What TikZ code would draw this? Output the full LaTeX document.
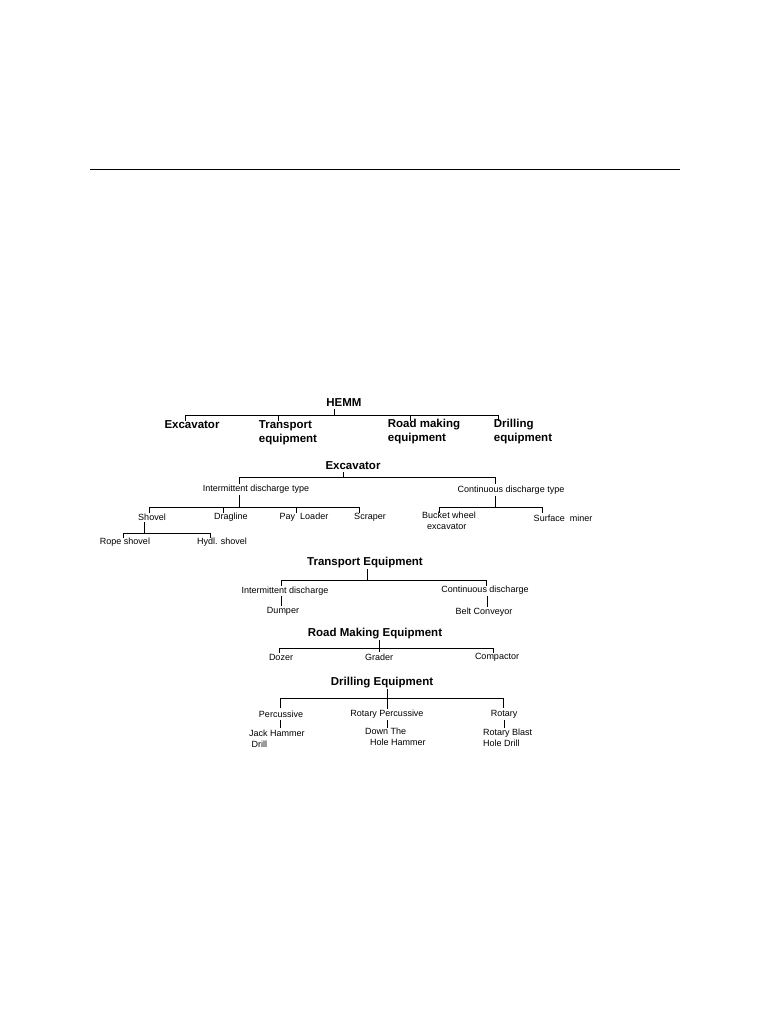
\documentclass[tikz,border=0pt]{standalone}
\usepackage{fontspec}
\setmainfont{Liberation Sans}
\begin{document}
\begin{tikzpicture}[x=1pt,y=-1pt,
  ttl/.style={font=\fontsize{11.5}{13}\selectfont\bfseries,inner sep=0pt},
  big/.style={font=\fontsize{11.5}{14}\selectfont\bfseries,inner sep=0pt,align=left},
  lbl/.style={font=\fontsize{9}{11}\selectfont,inner sep=0pt,align=left},
  ln/.style={line width=0.8pt}]
\useasboundingbox (0,0) rectangle (768,1024);
\draw[line width=1pt] (90,170) -- (680,170);
% HEMM
\node[ttl] (hemm) at (344,403) {HEMM};
\node[big] (ex) at (192,425) {Excavator};
\node[big,anchor=north] (tr) at (288,420) {Transport\\equipment};
\node[big,anchor=north] (rm) at (424,419) {Road making\\equipment};
\node[big,anchor=north] (dr) at (523,419) {Drilling\\equipment};
\draw[ln] (334,409) -- (334,415) (185,421) -- (185,415) -- (498,415) -- (498,421)
  (278,415) -- (278,421) (410,415) -- (410,421);
% Excavator
\node[ttl] (exc) at (353,466) {Excavator};
\node[lbl] (int) at (256,489) {Intermittent discharge type};
\node[lbl] (con) at (511,490) {Continuous discharge type};
\draw[ln] (343,472) -- (343,477) (239,484) -- (239,477) -- (495,477) -- (495,484);
\draw[ln] (239,495) -- (239,507) (495,496) -- (495,507);
\node[lbl] (sh) at (152,517) {Shovel};
\node[lbl] (dg) at (231,517) {Dragline};
\node[lbl] (pl) at (304,517) {Pay\ \ Loader};
\node[lbl] (sc) at (370,517) {Scraper};
\draw[ln] (149,513) -- (149,507) -- (359,507) -- (359,513) (223,507) -- (223,513) (296,507) -- (296,513);
\node[lbl,anchor=north,align=left] (bw) at (449,512) {Bucket wheel\\\ \ excavator};
\node[lbl] (sm) at (563,518) {Surface\ \ miner};
\draw[ln] (439,513) -- (439,507) -- (542,507) -- (542,513);
\node[lbl] (rs) at (125,542) {Rope shovel};
\node[lbl] (hs) at (222,542) {Hydl. shovel};
\draw[ln] (144,522) -- (144,533) (123,538) -- (123,533) -- (210,533) -- (210,538);
% Transport
\node[ttl] (te) at (365,563) {Transport Equipment};
\draw[ln] (367,569) -- (367,580) (281,586) -- (281,580) -- (486,580) -- (486,586);
\node[lbl] (ti) at (285,591) {Intermittent discharge};
\node[lbl] (tc) at (485,590) {Continuous discharge};
\draw[ln] (281,596) -- (281,606) (487,596) -- (487,607);
\node[lbl] (du) at (283,611) {Dumper};
\node[lbl] (bc) at (484,612) {Belt Conveyor};
% Road
\node[ttl] (re) at (375,634) {Road Making Equipment};
\draw[ln] (379,640) -- (379,652) (279,653) -- (279,648) -- (493,648) -- (493,653);
\node[lbl] (dz) at (281,657) {Dozer};
\node[lbl] (gr) at (379,657) {Grader};
\node[lbl] (cp) at (497,657) {Compactor};
% Drilling
\node[ttl] (de) at (382,683) {Drilling Equipment};
\draw[ln] (387,689) -- (387,709) (280,708) -- (280,698) -- (503,698) -- (503,708);
\node[lbl] (pe) at (281,714) {Percussive};
\node[lbl] (rp) at (387,714) {Rotary Percussive};
\node[lbl] (ro) at (504,714) {Rotary};
\draw[ln] (280,720) -- (280,728) (387,720) -- (387,728) (504,720) -- (504,728);
\node[lbl,anchor=north west] (jh) at (249,730) {Jack Hammer\\\ Drill};
\node[lbl,anchor=north west] (dt) at (365,728) {Down The\\\ \ Hole Hammer};
\node[lbl,anchor=north west] (rb) at (483,729) {Rotary Blast\\Hole Drill};
\end{tikzpicture}
\end{document}
